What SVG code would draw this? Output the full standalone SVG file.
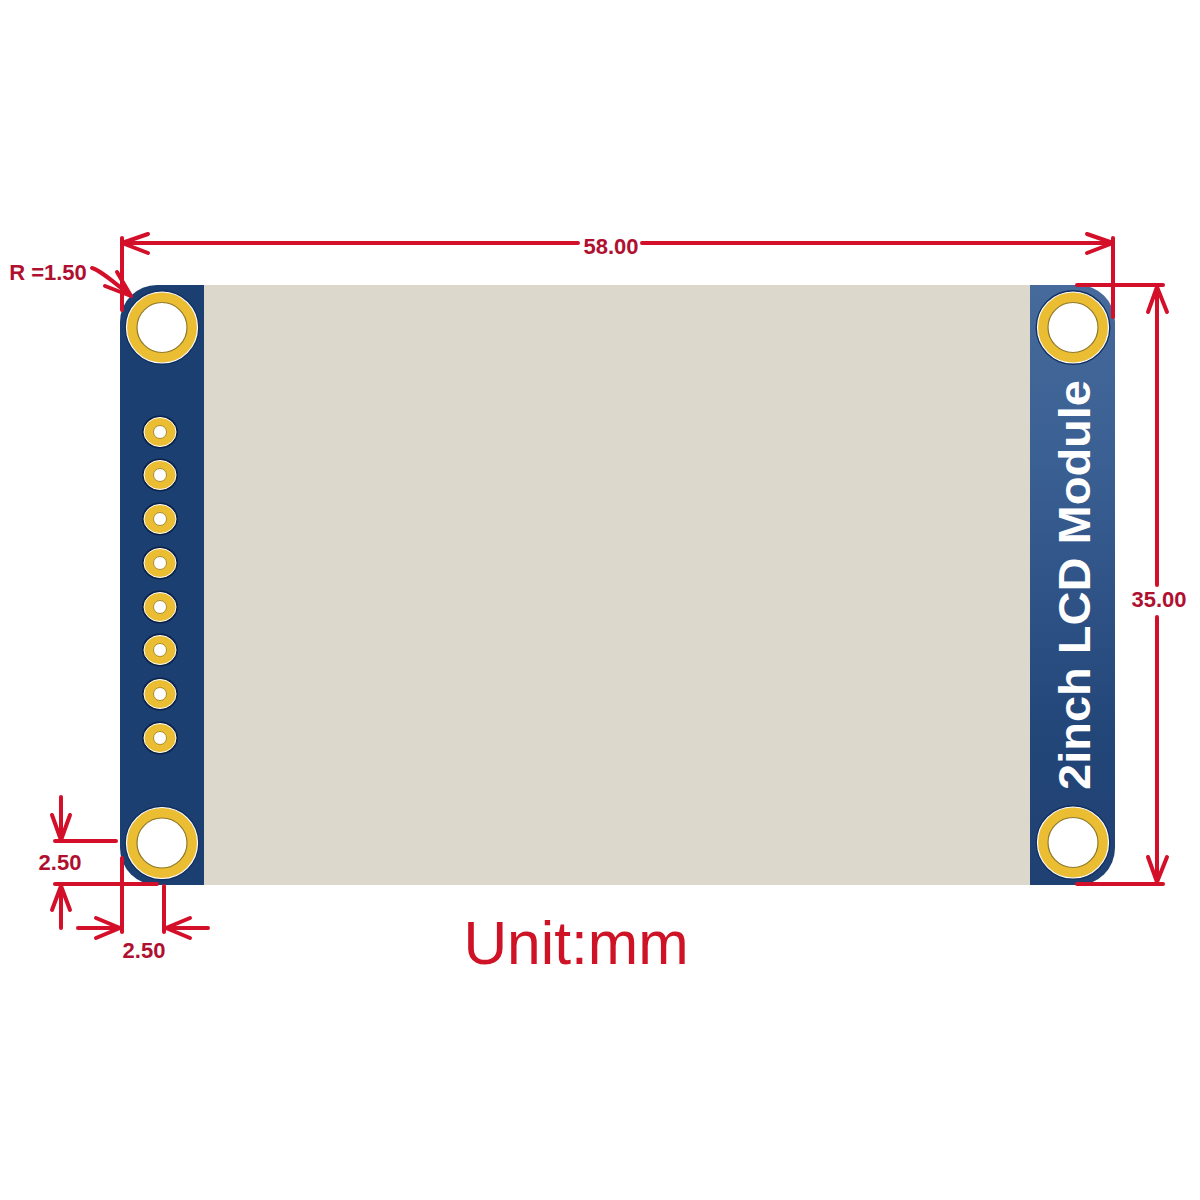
<svg xmlns="http://www.w3.org/2000/svg" width="1200" height="1200" viewBox="0 0 1200 1200">
<style>
.dim{fill:none;stroke:#d40f2a;stroke-width:4;stroke-linecap:round;stroke-linejoin:round}
.lbl{font-family:"Liberation Sans",Arial,sans-serif;font-weight:700;font-size:22px;fill:#b01030;text-anchor:middle}
.ring{fill:#ebbd33;stroke:#fff;stroke-width:1.2}
.hole{fill:#fff;stroke:#8f7a2a;stroke-width:1.2}
</style>
<defs>
<linearGradient id="rg" x1="0" y1="0" x2="0" y2="1">
<stop offset="0" stop-color="#466a9b"/><stop offset="0.3" stop-color="#3a5f92"/><stop offset="0.75" stop-color="#234679"/><stop offset="1" stop-color="#1f4073"/>
</linearGradient>
<g id="bigpad"><circle r="37.500" fill="#12305f"/><circle r="35.500" class="ring"/><circle r="25" class="hole"/></g>
<g id="smallpad"><ellipse rx="18" ry="16.500" fill="#0b2248"/><ellipse rx="16" ry="14.500" fill="#ebbd33" stroke="#fff" stroke-width="1"/><circle r="6.500" fill="#fff" stroke="#a88f2c" stroke-width="1"/></g>
</defs>
<rect width="1200" height="1200" fill="#fff"/>
<g id="board">
<path d="M204 285H157A37 37 0 0 0 120 322V848A37 37 0 0 0 157 885H204Z" fill="#1c3f72"/>
<path d="M1030 285H1078A37 37 0 0 1 1115 322V848A37 37 0 0 1 1078 885H1030Z" fill="url(#rg)"/>
</g>
<g id="screen"><rect x="204" y="285" width="826" height="600" fill="#dcd8cb"/></g>
<g id="mount-holes">
<use href="#bigpad" x="162" y="327.500"/>
<use href="#bigpad" x="162" y="843"/>
<use href="#bigpad" x="1073" y="327.500"/>
<use href="#bigpad" x="1073" y="842.500"/>
</g>
<g id="header-pins">
<use href="#smallpad" x="160" y="432"/>
<use href="#smallpad" x="160" y="475"/>
<use href="#smallpad" x="160" y="519"/>
<use href="#smallpad" x="160" y="563"/>
<use href="#smallpad" x="160" y="607"/>
<use href="#smallpad" x="160" y="650"/>
<use href="#smallpad" x="160" y="694"/>
<use href="#smallpad" x="160" y="738"/>
</g>
<g id="board-label">
<text transform="translate(1090 585) rotate(-90)" text-anchor="middle" font-family="'Liberation Sans',Arial,sans-serif" font-weight="700" font-size="45" textLength="410" lengthAdjust="spacingAndGlyphs" fill="#fff">2inch LCD Module</text>
</g>
<g id="connectors" class="dim">
<path d="M122 238V310"/>
<path d="M122 243H578M642 243H1113"/>
<path d="M148 234L122 243L148 253"/>
<path d="M1087 234L1113 243L1087 253"/>
<path d="M1113 238V317"/>
<path d="M1077 285H1163"/>
<path d="M1157 285V585M1157 617V882"/>
<path d="M1148 312L1157 287L1167 312"/>
<path d="M1148 857L1157 882L1167 857"/>
<path d="M1077 884H1163"/>
<path d="M92 268C100 270 115 283 131 296"/>
<path d="M117 272L131 296L105 286"/>
<path d="M55 841H116"/>
<path d="M61 797V840"/>
<path d="M52 815L61 840L70 815"/>
<path d="M55 884H157"/>
<path d="M61 886V928"/>
<path d="M52 910L61 886L70 910"/>
<path d="M122 858V932"/>
<path d="M78 928H120"/>
<path d="M96 918L120 928L96 938"/>
<path d="M164 886V932"/>
<path d="M208 928H166"/>
<path d="M190 918L166 928L190 938"/>
</g>
<g id="labels">
<text class="lbl" x="611" y="254">58.00</text>
<text class="lbl" x="1159" y="607">35.00</text>
<text class="lbl" x="48" y="280">R =1.50</text>
<text class="lbl" x="60" y="870">2.50</text>
<text class="lbl" x="144" y="958">2.50</text>
<text x="576" y="964" text-anchor="middle" font-family="'Liberation Sans',Arial,sans-serif" font-size="60.500" fill="#cf1326">Unit:mm</text>
</g>
</svg>
